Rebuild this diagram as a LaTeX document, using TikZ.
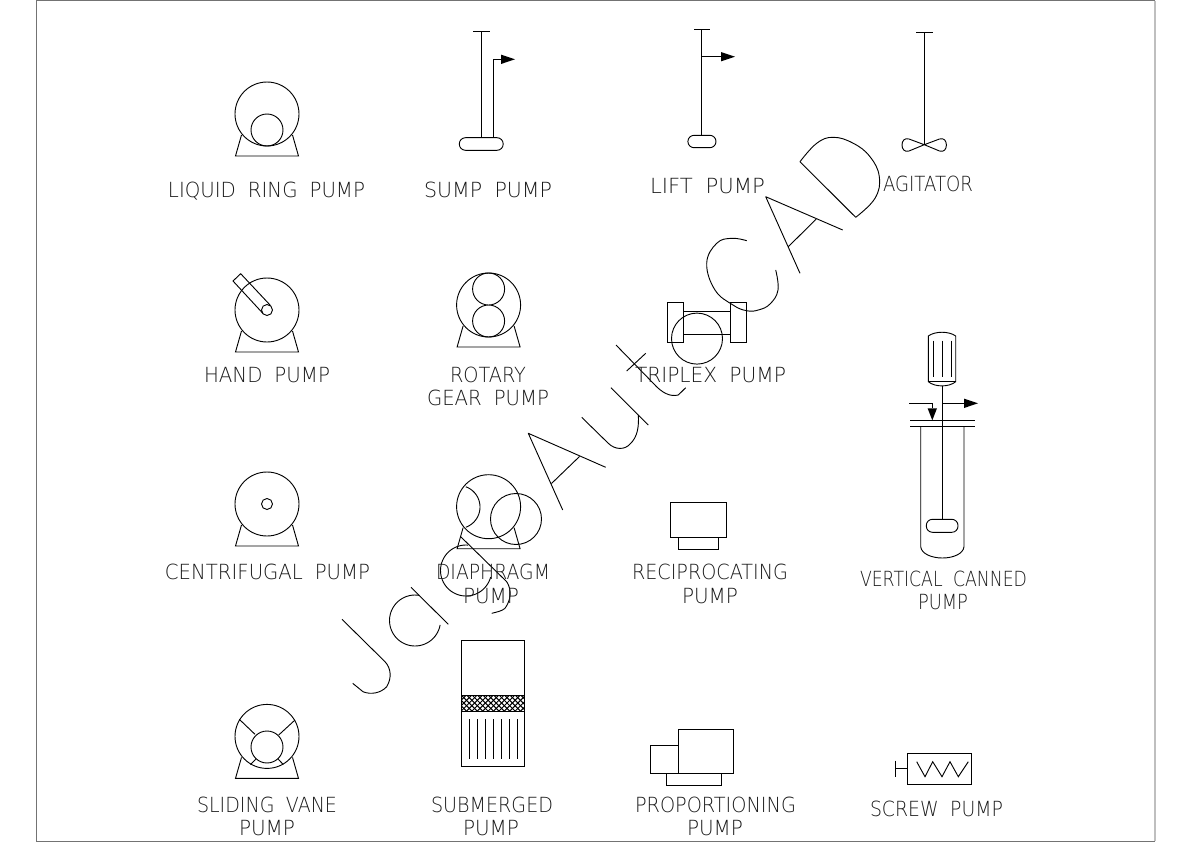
\documentclass[tikz,border=0pt]{standalone}
\usepackage{fontspec}
\usepackage{graphicx}
\newfontfamily\lblfont[WordSpace=1.9]{DejaVu Sans ExtraLight}
\newcommand{\lab}[5]{\node[lbl] (#1) at (#2,#3) {\resizebox{\dimexpr #4pt*6/10\relax}{\height}{#5}};}
\tikzset{
  x=0.6pt,y=-0.6pt,
  lbl/.style={inner sep=0,outer sep=0,text height=9.1pt,text depth=0pt,font=\fontsize{12.5}{12.5}\selectfont\lblfont,text=black!90},
  ln/.style={line width=0.55pt,black,line join=miter},
  wm/.style={line width=0.55pt,black,line join=round}
}
% arc in image coordinates: cx cy r a b
\newcommand{\arcp}[5]{plot[domain=#4:#5,samples=48,smooth] ({#1+#3*cos(\x)},{#2+#3*sin(\x)})}
% motor body: circle + legs + base
\newcommand{\motor}[2]{%
  \draw[ln] (#1,#2) circle[radius=32];
  \draw[ln] (#1-25.5,#2+21) -- (#1-31.5,#2+42) -- (#1+31.5,#2+42) -- (#1+25.5,#2+21);
}
\newcommand{\stad}[4]{% x0 y0 x1 y1
  \draw[ln,rounded corners=3.7pt] (#1,#2) rectangle (#3,#4);
}
\newcommand{\headR}[2]{\fill[black] (#1,#2-4.7) -- (#1+14,#2) -- (#1,#2+4.7) -- cycle;}
\newcommand{\headD}[2]{\fill[black] (#1-4.7,#2) -- (#1,#2+12) -- (#1+4.7,#2) -- cycle;}
\begin{document}
\begin{tikzpicture}
\useasboundingbox (0,0) rectangle (1191,842);
\fill[white] (0,0) rectangle (1191,842);
% sheet border
\draw[line width=0.6pt,black!55] (1155,841) -- (36.5,841) -- (36.5,0.5) -- (1155,0.5);
\draw[line width=0.8pt,black!25] (1155,0.5) -- (1155,841);
% centrifugal family
\motor{267}{114}
\draw[ln] (267,130) circle[radius=16];
\motor{267}{310}
\draw[ln] (267,310) circle[radius=5.5];
\draw[ln] (263,313.5) -- (233,281) -- (240.7,273.7) -- (270.5,305.5);
\motor{267}{504}
\draw[ln] (267,504) circle[radius=5.5];
\motor{488.6}{305}
\draw[ln] (488.6,289) circle[radius=16] (488.6,321) circle[radius=16];
\motor{488.6}{506.7}
\draw[ln] \arcp{458.5}{507}{21.5}{-70}{70};
\motor{267}{736.4}
\draw[ln] (267,747) circle[radius=16];
\draw[ln] (239.3,719.3) -- (255,734.3) (295,720) -- (278.7,735)
  (250.5,764.5) -- (255.7,759.3) (283.3,764.5) -- (278.3,759.3);
% sump
\draw[ln] (473,31.3) -- (489.6,31.3) (481.4,31.3) -- (481.4,137.7);
\draw[ln] (493.2,137.7) -- (493.2,59.3) -- (501,59.3);
\headR{501}{59.3}
\stad{459.3}{137.7}{503.2}{150.3}
% lift
\draw[ln] (694,29) -- (710,29) (701.8,29) -- (701.8,135.3) (701.8,56.7) -- (721,56.7);
\headR{721}{56.7}
\stad{687.9}{135.3}{716}{147.7}
% agitator
\draw[ln] (916.4,32.3) -- (932.5,32.3) (924.3,32.3) -- (924.3,144.7);
\draw[ln] (924.3,144.7) -- (909,139) .. controls (904.5,137.5) and (902,141) .. (902,145)
  .. controls (902,149) and (904.5,152.5) .. (909,151) -- (924.3,144.7)
  -- (939.5,139) .. controls (944,137.5) and (946.4,141) .. (946.4,145)
  .. controls (946.4,149) and (944,152.5) .. (939.5,151) -- cycle;
% triplex
\draw[ln] (667,302.7) rectangle (683.3,342.3) (730,302.7) rectangle (746.3,342.3);
\draw[ln] (683.3,311) -- (730,311) (683.3,334.3) -- (730,334.3);
% reciprocating
\draw[ln] (670.3,502) rectangle (726,537.3) (678.3,537.3) rectangle (718.7,549.3);
% vertical canned
\draw[ln] (928.3,336) .. controls (935,331) and (949,331) .. (955.7,336) -- (955.7,381.7)
  .. controls (949,387.3) and (935,387.3) .. (928.3,381.7) -- cycle;
\draw[ln] (928.3,381.7) -- (955.7,381.7);
\draw[ln] (933,340.7) -- (933,377.3) (942.3,340.7) -- (942.3,377.3) (951.7,340.7) -- (951.7,377.3);
\draw[ln] (942.3,386) -- (942.3,519.3) (942.3,403.3) -- (964,403.3);
\headR{964}{403.3}
\draw[ln] (909.3,403.3) -- (932.3,403.3) -- (932.3,408.3);
\headD{932.3}{408.3}
\draw[ln] (910,420.3) -- (975,420.3) (910,426) -- (975,426);
\draw[ln] (920.7,426) -- (920.7,546.7) .. controls (921.5,554) and (932,558) .. (942.3,558)
  .. controls (953,558) and (963.2,554) .. (964,546.7) -- (964,426);
\stad{926.3}{519.3}{958}{532.3}
% submerged
\draw[ln] (461.3,640) rectangle (524.3,766.7);
\draw[ln] (461.3,695) -- (524.3,695) (461.3,711) -- (524.3,711);
\begin{scope}
\clip (461.3,695) rectangle (524.3,711);
\foreach \k in {-5.4,0,...,86}{
  \draw[line width=0.6pt,black] (445+\k,695) -- (461+\k,711);
  \draw[line width=0.6pt,black] (461+\k,695) -- (445+\k,711);
}
\end{scope}
\foreach \vx in {469.3,477.3,485.3,493.3,501.3,509.3,517.3}
  \draw[ln] (\vx,719.3) -- (\vx,759);
% proportioning
\draw[ln] (678.3,729.3) rectangle (733.3,773.3) (650.3,745.3) rectangle (678.3,773.3);
\draw[ln] (666.3,773.3) -- (666.3,785) -- (721.7,785) -- (721.7,773.3);
% screw
\draw[ln] (907.7,753) rectangle (971.3,784.7);
\draw[ln] (895,760.7) -- (895,776.7) (895,768.7) -- (907.7,768.7);
\draw[ln] (916.7,761.7) -- (925,776.7) -- (932.7,761.7) -- (942,776.7) -- (950,761.7) -- (958.3,776.7) -- (968.3,761.7);
% watermark lettering
\draw[wm] (342,619.3) -- (385,661.7) .. controls (391,668) and (392,678) .. (386.7,686.7)
  .. controls (381,693) and (371,695) .. (363,691.7) -- (352.7,683.3);
\draw[wm] \arcp{415}{620.5}{25.5}{-80}{-350};
\draw[wm] (411,587.3) -- (448.3,624.3);
\draw[wm] \arcp{466}{570.5}{25.5}{-85}{-345};
\draw[wm] (460.7,536.7) -- (506.7,581.7) .. controls (512,590) and (511,600) .. (505,608.3) .. controls (502,611) and (497,612) .. (491.7,613.3);
\draw[wm] (516,519) circle[radius=25.5];
\draw[wm] (605.7,467.3) -- (528.3,433.3) -- (562.7,510) (579.3,456.7) -- (551.7,483.3);
\draw[wm] (581.7,417.3) -- (608.3,443.3) .. controls (615,450) and (625,450) .. (630,444)
  .. controls (638,437) and (639,425) .. (638.3,415);
\draw[wm] (611,387.7) -- (648.3,425);
\draw[wm] (616,345) -- (653.3,383.3) .. controls (662,393) and (670,397) .. (678.3,395) -- (685.7,387.7);
\draw[wm] (645.7,353.3) -- (626.7,371);
\draw[wm] (697,338.6) circle[radius=25.5];
\draw[wm] plot[smooth,tension=0.7] coordinates {(746.7,240.7) (731.7,238.3) (716.7,243.3) (706.7,263.3) (715,290) (733,305) (746.7,310.7) (758.3,310) (770,304) (778,290) (775.7,270)};
\draw[wm] (842.7,230) -- (765.7,196.7) -- (800,273.3) (816,219.3) -- (788.3,246.7);
\draw[wm] (855.7,217.3) -- (800,161.7) plot[smooth,tension=0.7] coordinates {(800,161.7) (816.7,143.3) (833.3,137.3) (853.3,143.3) (870,156.7) (879.3,176.7) (875,198.3) (855.7,217.3)};
% labels
\lab{l1}{266.5}{190}{197}{LIQUID RING PUMP}
\lab{l2}{488}{190}{128}{SUMP PUMP}
\lab{l3}{707.5}{186}{115}{LIFT PUMP}
\lab{l4}{928}{184}{90}{AGITATOR}
\lab{l5}{267}{375}{126}{HAND PUMP}
\lab{l6}{488}{375}{76}{ROTARY}
\lab{l7}{488}{398}{122}{GEAR PUMP}
\lab{l8}{710.5}{375}{151}{TRIPLEX PUMP}
\lab{l9}{267.5}{572}{205}{CENTRIFUGAL PUMP}
\lab{l10}{493}{572}{114}{DIAPHRAGM}
\lab{l11}{491}{596}{56}{PUMP}
\lab{l12}{710}{572}{156}{RECIPROCATING}
\lab{l13}{710}{596}{56}{PUMP}
\lab{l14}{943.5}{579}{167}{VERTICAL CANNED}
\lab{l15}{943}{602}{50}{PUMP}
\lab{l16}{267}{805}{140}{SLIDING VANE}
\lab{l17}{267}{828}{56}{PUMP}
\lab{l18}{492}{805}{122}{SUBMERGED}
\lab{l19}{491}{828}{56}{PUMP}
\lab{l20}{715.5}{805}{161}{PROPORTIONING}
\lab{l21}{715}{828}{56}{PUMP}
\lab{l22}{936.5}{809}{133}{SCREW PUMP}
\end{tikzpicture}
\end{document}
